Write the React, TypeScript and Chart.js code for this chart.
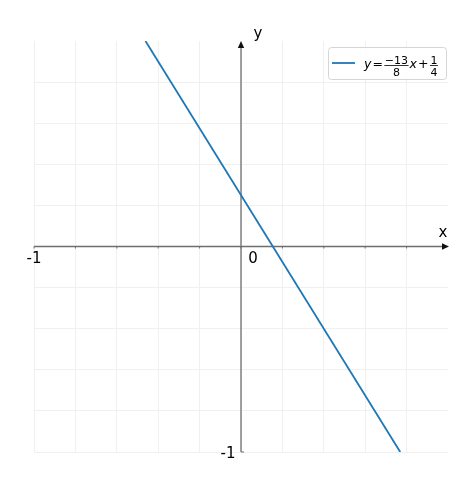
import React, { useEffect, useRef } from "react";
import { Chart, registerables } from "chart.js";

Chart.register(...registerables);

// Line y = -13/8 x + 1/4, read at its ends inside the view
const lineX = [-0.4615, 0.7692];
const lineY = [1, -1];
const seriesLabel = "y = −13/8 x + 1/4";
const gridValues = [-1, -0.8, -0.6, -0.4, -0.2, 0, 0.2, 0.4, 0.6, 0.8];
const axisMin = -1;
const axisMax = 1;

const FONT = '"DejaVu Sans", "Liberation Sans", sans-serif';
const BLUE = "#1f77b4";

const axesPlugin = {
  id: "customAxes",
  beforeDatasetsDraw(chart: any) {
    const { ctx, scales } = chart;
    const xs = scales.x;
    const ys = scales.y;
    const x0 = xs.getPixelForValue(0);
    const y0 = ys.getPixelForValue(0);
    const left = xs.getPixelForValue(axisMin);
    const right = xs.getPixelForValue(axisMax);
    const top = ys.getPixelForValue(axisMax);
    const bottom = ys.getPixelForValue(axisMin);
    ctx.save();
    ctx.strokeStyle = "#6e6e6e";
    ctx.lineWidth = 1.3;
    ctx.beginPath();
    ctx.moveTo(left, y0);
    ctx.lineTo(right - 5, y0);
    ctx.moveTo(x0, bottom);
    ctx.lineTo(x0, top + 5);
    ctx.stroke();
    // small ticks on x axis
    ctx.lineWidth = 1;
    ctx.beginPath();
    for (const v of gridValues) {
      const px = xs.getPixelForValue(v);
      ctx.moveTo(px, y0);
      ctx.lineTo(px, y0 + 2);
    }
    ctx.moveTo(x0, bottom);
    ctx.lineTo(x0 + 3, bottom);
    ctx.stroke();
    // arrowheads
    ctx.fillStyle = "#111";
    ctx.beginPath();
    ctx.moveTo(right + 1, y0);
    ctx.lineTo(right - 6, y0 - 3.2);
    ctx.lineTo(right - 6, y0 + 3.2);
    ctx.closePath();
    ctx.fill();
    ctx.beginPath();
    ctx.moveTo(x0, top);
    ctx.lineTo(x0 - 3.2, top + 7);
    ctx.lineTo(x0 + 3.2, top + 7);
    ctx.closePath();
    ctx.fill();
    ctx.restore();
  },
  afterDraw(chart: any) {
    const { ctx, scales } = chart;
    const xs = scales.x;
    const ys = scales.y;
    const x0 = xs.getPixelForValue(0);
    const y0 = ys.getPixelForValue(0);
    const left = xs.getPixelForValue(axisMin);
    const right = xs.getPixelForValue(axisMax);
    const top = ys.getPixelForValue(axisMax);
    const bottom = ys.getPixelForValue(axisMin);
    ctx.save();
    ctx.fillStyle = "#000";
    ctx.font = `15px ${FONT}`;
    ctx.textAlign = "center";
    ctx.textBaseline = "middle";
    ctx.fillText("-1", left, y0 + 13);
    ctx.fillText("0", x0 + 12, y0 + 13);
    ctx.fillText("-1", x0 - 13, bottom + 2);
    ctx.fillText("x", right - 5, y0 - 13);
    ctx.fillText("y", x0 + 17, top - 7);

    // legend
    const bx = right - 120;
    const by = top + 6;
    const bw = 118;
    const bh = 32;
    ctx.beginPath();
    ctx.roundRect(bx + 0.5, by + 0.5, bw, bh, 3);
    ctx.fillStyle = "rgba(255,255,255,0.85)";
    ctx.fill();
    ctx.strokeStyle = "#d5d5d5";
    ctx.lineWidth = 1;
    ctx.stroke();

    const cy = by + 16;
    ctx.strokeStyle = BLUE;
    ctx.lineWidth = 1.8;
    ctx.beginPath();
    ctx.moveTo(bx + 4, cy);
    ctx.lineTo(bx + 27, cy);
    ctx.stroke();

    const parts = seriesLabel.split(" "); // y, =, −13/8, x, +, 1/4
    const base = cy + 4.5;
    const barY = cy + 2.5;
    let px = bx + 36;
    ctx.fillStyle = "#000";
    ctx.textAlign = "left";
    ctx.textBaseline = "alphabetic";
    const drawMain = (t: string, italic: boolean, gap: number) => {
      ctx.font = `${italic ? "italic " : ""}12.5px ${FONT}`;
      ctx.fillText(t, px, base);
      px += ctx.measureText(t).width + gap;
    };
    const drawFrac = (t: string, gap: number) => {
      const [num, den] = t.split("/");
      ctx.font = `11px ${FONT}`;
      const w = Math.max(ctx.measureText(num).width, ctx.measureText(den).width) + 1;
      ctx.textAlign = "center";
      ctx.fillText(num, px + w / 2, barY - 2);
      ctx.fillText(den, px + w / 2, barY + 10.5);
      ctx.textAlign = "left";
      ctx.strokeStyle = "#000";
      ctx.lineWidth = 0.8;
      ctx.beginPath();
      ctx.moveTo(px, barY);
      ctx.lineTo(px + w, barY);
      ctx.stroke();
      px += w + gap;
    };
    drawMain(parts[0], true, 1);
    drawMain(parts[1], false, 1.5);
    drawFrac(parts[2], 1);
    drawMain(parts[3], true, 1);
    drawMain(parts[4], false, 1.5);
    drawFrac(parts[5], 0);
    ctx.restore();
  },
};

export default function App() {
  const ref = useRef<HTMLCanvasElement | null>(null);
  useEffect(() => {
    if (!ref.current) return;
    const gridColor = (c: any) =>
      c.tick && c.tick.value === axisMax ? "rgba(0,0,0,0)" : "#f0f0f0";
    const chart = new Chart(ref.current, {
      type: "scatter",
      data: {
        datasets: [
          {
            label: seriesLabel,
            data: lineX.map((x, i) => ({ x, y: lineY[i] })),
            showLine: true,
            borderColor: BLUE,
            borderWidth: 1.8,
            pointRadius: 0,
            fill: false,
          },
        ],
      },
      plugins: [axesPlugin],
      options: {
        animation: false,
        responsive: true,
        maintainAspectRatio: false,
        layout: { padding: { left: 34, right: 26, top: 41, bottom: 36 } },
        plugins: { legend: { display: false }, tooltip: { enabled: false } },
        scales: {
          x: {
            type: "linear",
            min: axisMin,
            max: axisMax,
            ticks: { display: false, stepSize: 0.2 },
            grid: { color: gridColor, drawTicks: false, lineWidth: 1 },
            border: { display: false },
          },
          y: {
            type: "linear",
            min: axisMin,
            max: axisMax,
            ticks: { display: false, stepSize: 0.2 },
            grid: { color: gridColor, drawTicks: false, lineWidth: 1 },
            border: { display: false },
          },
        },
      },
    });
    return () => chart.destroy();
  }, []);
  return (
    <div style={{ position: "absolute", left: 0, top: 0, width: 474, height: 488, background: "#fff" }}>
      <canvas ref={ref} />
    </div>
  );
}
